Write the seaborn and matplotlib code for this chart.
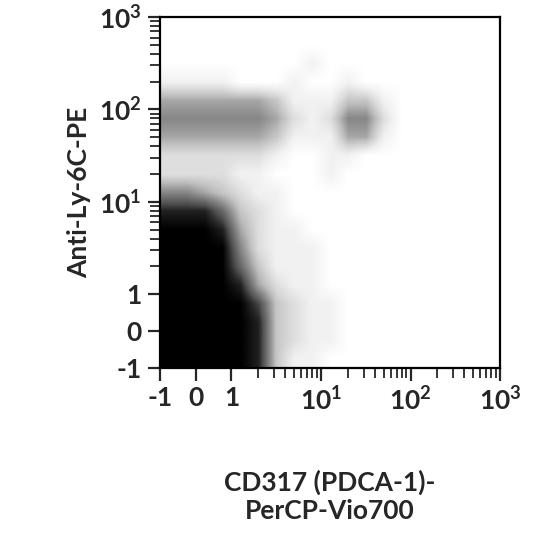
import numpy as np
import matplotlib
matplotlib.use("Agg")
import matplotlib.pyplot as plt
import seaborn as sns

sns.set_style("white")
plt.rcParams['font.family'] = ['Lato', 'DejaVu Sans']
plt.rcParams['mathtext.fontset'] = 'custom'
plt.rcParams['mathtext.rm'] = 'Lato:bold'
plt.rcParams['mathtext.bf'] = 'Lato:bold'

# event density, 0 (empty) .. 9 (solid black)
# rows = Ly-6C bins from bottom, columns = CD317 bins from left, 0.2 display units each
density = [
    [9, 9, 9, 9, 9, 8, 3, 1, 1, 0, 0, 0, 0, 0, 0, 0, 0, 0, 0],
    [9, 9, 9, 9, 9, 8, 3, 2, 1, 1, 0, 0, 0, 0, 0, 0, 0, 0, 0],
    [9, 9, 9, 9, 9, 8, 3, 2, 1, 1, 0, 0, 0, 0, 0, 0, 0, 0, 0],
    [9, 9, 9, 9, 9, 7, 3, 2, 1, 1, 0, 0, 0, 0, 0, 0, 0, 0, 0],
    [9, 9, 9, 9, 8, 4, 2, 1, 1, 0, 0, 0, 0, 0, 0, 0, 0, 0, 0],
    [9, 9, 9, 9, 6, 3, 1, 1, 1, 0, 0, 0, 0, 0, 0, 0, 0, 0, 0],
    [9, 9, 9, 9, 5, 2, 1, 1, 1, 0, 0, 0, 0, 0, 0, 0, 0, 0, 0],
    [9, 9, 9, 8, 4, 2, 1, 1, 0, 0, 0, 0, 0, 0, 0, 0, 0, 0, 0],
    [8, 8, 8, 6, 3, 2, 1, 0, 0, 0, 0, 0, 0, 0, 0, 0, 0, 0, 0],
    [5, 5, 4, 3, 2, 1, 1, 0, 0, 0, 0, 0, 0, 0, 0, 0, 0, 0, 0],
    [2, 2, 2, 2, 1, 1, 0, 0, 0, 1, 0, 0, 0, 0, 0, 0, 0, 0, 0],
    [2, 2, 2, 2, 2, 2, 1, 0, 0, 1, 1, 0, 0, 0, 0, 0, 0, 0, 0],
    [4, 4, 4, 4, 4, 4, 3, 1, 1, 1, 4, 4, 1, 0, 0, 0, 0, 0, 0],
    [5, 5, 5, 5, 5, 5, 4, 2, 1, 2, 5, 5, 2, 0, 0, 0, 0, 0, 0],
    [4, 4, 4, 4, 4, 4, 3, 1, 1, 1, 3, 3, 1, 0, 0, 0, 0, 0, 0],
    [1, 1, 1, 1, 0, 0, 0, 1, 0, 0, 1, 0, 0, 0, 0, 0, 0, 0, 0],
    [0, 0, 0, 0, 0, 0, 0, 0, 1, 0, 0, 0, 0, 0, 0, 0, 0, 0, 0],
    [0, 0, 0, 0, 0, 0, 0, 0, 0, 0, 0, 0, 0, 0, 0, 0, 0, 0, 0],
    [0, 0, 0, 0, 0, 0, 0, 0, 0, 0, 0, 0, 0, 0, 0, 0, 0, 0, 0],
]
tick_values = [-1, 0, 1, 10, 100, 1000]
tick_labels = ["-1", "0", "1", "$\\mathbf{10^{1}}$", "$\\mathbf{10^{2}}$", "$\\mathbf{10^{3}}$"]


def to_display(v):
    # biexponential-like axis: linear from -1 to 1, log above
    v = np.asarray(v, dtype=float)
    return np.where(v <= 1, 0.4 + 0.4 * v, 0.8 + np.log10(np.maximum(v, 1)))


fig = plt.figure(figsize=(5.4, 5.4), dpi=100)
ax = fig.add_axes([0.296, 0.3185, 0.63, 0.65])
ax.imshow(np.array(density), origin="lower", extent=[0, 3.8, 0, 3.8],
          cmap="Greys", vmin=0, vmax=9, interpolation="bilinear", aspect="auto")
ax.set_xlim(0, 3.8)
ax.set_ylim(0, 3.8)

major = to_display(tick_values)
minor = to_display([m * 10 ** k for k in range(0, 3) for m in range(2, 10)])
for axis in (ax.xaxis, ax.yaxis):
    axis.set_ticks(major)
    axis.set_ticks(minor, minor=True)
ax.set_xticklabels(tick_labels, fontsize=19, fontweight="bold")
ax.set_yticklabels(tick_labels, fontsize=19, fontweight="bold")
ax.tick_params(which="major", direction="out", length=9, width=1.6, bottom=True, left=True, pad=4)
ax.tick_params(which="minor", direction="out", length=7, width=1.3, bottom=True, left=True)
for s in ax.spines.values():
    s.set_linewidth(1.6)
    s.set_color("black")

ax.set_xlabel("CD317 (PDCA-1)-\nPerCP-Vio700", fontsize=19, fontweight="bold", labelpad=40)
ax.set_ylabel("Anti-Ly-6C-PE", fontsize=19, fontweight="bold", labelpad=6)

fig.savefig("out.png", dpi=100)
